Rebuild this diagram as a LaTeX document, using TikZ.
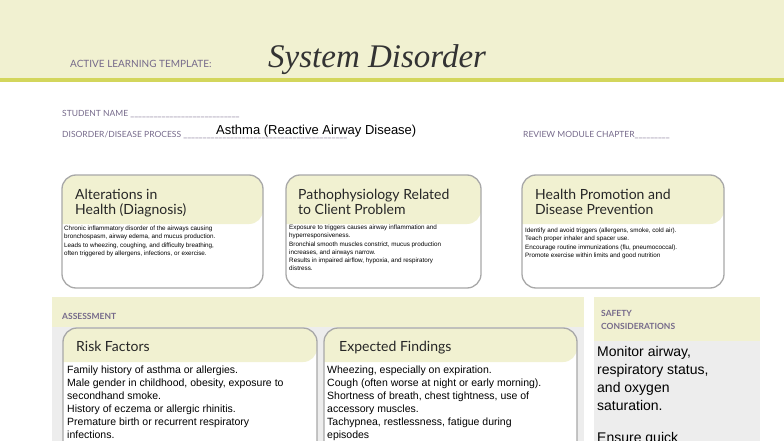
\documentclass[tikz,border=0pt]{standalone}
\usepackage{fontspec}
\setmainfont{Liberation Sans}
\newfontfamily\lato{Lato}
\newfontfamily\titlefont{Liberation Serif}
\definecolor{band}{HTML}{F1F1D1}
\definecolor{lime}{HTML}{D3D65C}
\definecolor{purp}{HTML}{75698A}
\definecolor{panel}{HTML}{EDEDED}
\definecolor{edge}{HTML}{A8A8A8}
\tikzset{
  lbl/.style={anchor=base west, inner sep=0, text=purp, font=\lato\fontsize{8.5}{10}\selectfont},
  hdr/.style={anchor=north west, inner sep=0, align=left, font=\lato\fontsize{14}{14.5}\selectfont, text=black!85},
  small/.style={anchor=north west, inner sep=0, align=left, font=\fontsize{6.3}{8.2}\selectfont},
  mid/.style={anchor=north west, inner sep=0, align=left, font=\fontsize{10.5}{13}\selectfont},
  card/.style={edge, line width=1.3pt, rounded corners=14},
}
\begin{document}
\begin{tikzpicture}[x=1pt,y=-1pt]
\useasboundingbox (0,0) rectangle (784,441);
\clip (0,0) rectangle (784,441);
\fill[band] (0,0) rectangle (784,78);
\fill[lime] (0,78) rectangle (784,82);
\node[lbl, font=\lato\fontsize{10}{12}\selectfont] (alt) at (70,68) {ACTIVE LEARNING TEMPLATE:};
\node[anchor=base west, inner sep=0, font=\titlefont\itshape\fontsize{33}{36}\selectfont, text=black!80] (sd) at (268,68) {System Disorder};
\node[lbl] (sn) at (62,117) {STUDENT NAME \_\_\_\_\_\_\_\_\_\_\_\_\_\_\_\_\_\_\_\_\_\_\_\_\_\_\_\_};
\node[lbl] (dp) at (62,138) {DISORDER/DISEASE PROCESS \_\_\_\_\_\_\_\_\_\_\_\_\_\_\_\_\_\_\_\_\_\_\_\_\_\_\_\_\_\_\_\_\_\_\_\_\_\_\_\_\_\_};
\node[anchor=base west, inner sep=0, font=\fontsize{13}{14}\selectfont] (as) at (216,135) {Asthma (Reactive Airway Disease)};
\node[lbl] (rm) at (523,138) {REVIEW MODULE CHAPTER\_\_\_\_\_\_\_\_\_};
\fill[white, rounded corners=14] (62,175) rectangle (263,288);
\fill[band, rounded corners=14] (62,224) -- (62,175) -- (263,175) -- (263,224) [sharp corners] -- cycle;
\draw[card] (62,175) rectangle (263,288);
\fill[white, rounded corners=14] (286,175) rectangle (481,288);
\fill[band, rounded corners=14] (286,224) -- (286,175) -- (481,175) -- (481,224) [sharp corners] -- cycle;
\draw[card] (286,175) rectangle (481,288);
\fill[white, rounded corners=14] (522,175) rectangle (724,288);
\fill[band, rounded corners=14] (522,224) -- (522,175) -- (724,175) -- (724,224) [sharp corners] -- cycle;
\draw[card] (522,175) rectangle (724,288);
\node[hdr] (h1) at (75,189) {Alterations in\\Health (Diagnosis)};
\node[small] (t1) at (64,226) {Chronic inflammatory disorder of the airways causing\\bronchospasm, airway edema, and mucus production.\\Leads to wheezing, coughing, and difficulty breathing,\\often triggered by allergens, infections, or exercise.};
\node[hdr] (h2) at (298,189) {Pathophysiology Related\\to Client Problem};
\node[small] (t2) at (289,225) {Exposure to triggers causes airway inflammation and\\hyperresponsiveness.\\Bronchial smooth muscles constrict, mucus production\\increases, and airways narrow.\\Results in impaired airflow, hypoxia, and respiratory\\distress.};
\node[hdr] (h3) at (535,189) {Health Promotion and\\Disease Prevention};
\node[small] (t3) at (525,228) {Identify and avoid triggers (allergens, smoke, cold air).\\Teach proper inhaler and spacer use.\\Encourage routine immunizations (flu, pneumococcal).\\Promote exercise within limits and good nutrition};
\fill[panel] (52,297) rectangle (584,441);
\fill[band] (52,297) rectangle (584,327);
\node[lbl, font=\lato\bfseries\fontsize{8.5}{10}\selectfont] (asl) at (62,319) {ASSESSMENT};
\fill[white, rounded corners=14] (63,328) rectangle (317,470);
\fill[band, rounded corners=14] (63,362) -- (63,328) -- (317,328) -- (317,362) [sharp corners] -- cycle;
\draw[card] (63,328) rectangle (317,470);
\fill[white, rounded corners=14] (324,328) rectangle (577,470);
\fill[band, rounded corners=14] (324,362) -- (324,328) -- (577,328) -- (577,362) [sharp corners] -- cycle;
\draw[card] (324,328) rectangle (577,470);
\node[hdr] (rf) at (76,341) {Risk Factors};
\node[mid] (rft) at (67,366) {Family history of asthma or allergies.\\Male gender in childhood, obesity, exposure to\\secondhand smoke.\\History of eczema or allergic rhinitis.\\Premature birth or recurrent respiratory\\infections.};
\node[hdr] (ef) at (339,341) {Expected Findings};
\node[mid] (eft) at (327,366) {Wheezing, especially on expiration.\\Cough (often worse at night or early morning).\\Shortness of breath, chest tightness, use of\\accessory muscles.\\Tachypnea, restlessness, fatigue during\\episodes};
\fill[panel] (594,297) rectangle (760,441);
\fill[band] (594,297) rectangle (760,341);
\node[lbl, font=\lato\bfseries\fontsize{8.5}{13.5}\selectfont, align=left, anchor=north west] (sc) at (601,310) {SAFETY\\CONSIDERATIONS};
\node[anchor=north west, inner sep=0, align=left, font=\fontsize{14}{18}\selectfont] (st) at (597,346) {Monitor airway,\\respiratory status,\\and oxygen\\saturation.};
\node[anchor=north west, inner sep=0, align=left, font=\fontsize{14}{18}\selectfont] (st2) at (597,432) {Ensure quick};
\end{tikzpicture}
\end{document}
